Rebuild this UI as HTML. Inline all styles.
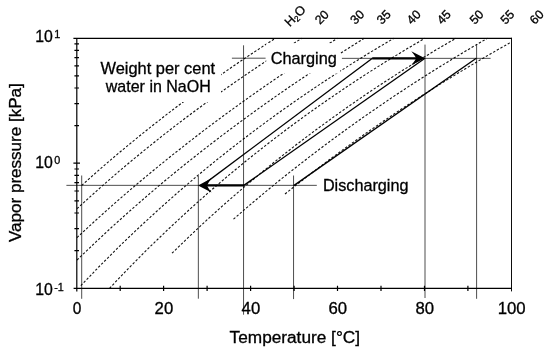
<!DOCTYPE html>
<html><head><meta charset="utf-8"><title>Vapor pressure chart</title>
<style>html,body{margin:0;padding:0;background:#fff}svg{display:block}text{font-family:"Liberation Sans",sans-serif;fill:#000;stroke:#000;stroke-width:0.3px}</style></head><body>
<svg width="550" height="353" viewBox="0 0 550 353">
<rect width="550" height="353" fill="#fff"/>
<g fill="none" stroke="#111" stroke-width="1.1" stroke-dasharray="2.4 1.8">
<polyline points="81.7,185.4 93.8,174.6 105.9,164.0 118.0,153.7 130.2,143.6 142.3,133.7 154.4,124.1 166.5,114.6 178.6,105.4 190.7,96.4 202.8,87.5 214.9,78.9 227.1,70.4 239.2,62.1 251.3,54.0 263.4,46.0 275.5,38.2"/>
<polyline points="77.0,208.7 91.1,195.9 105.1,183.4 119.2,171.2 133.2,159.4 147.3,147.9 161.4,136.6 175.4,125.7 189.5,115.0 203.6,104.6 217.6,94.4 231.7,84.5 245.8,74.8 259.8,65.3 273.9,56.1 287.9,47.0 302.0,38.2"/>
<polyline points="77.0,237.6 93.3,222.5 109.6,207.8 125.8,193.6 142.1,179.8 158.4,166.3 174.7,153.2 191.0,140.4 207.2,127.9 223.5,115.8 239.8,103.9 256.1,92.3 272.4,81.0 288.7,70.0 304.9,59.2 321.2,48.6 337.5,38.2"/>
<polyline points="77.0,260.0 95.0,242.8 112.9,226.1 130.9,210.0 148.9,194.3 166.8,179.2 184.8,164.5 202.8,150.3 220.8,136.4 238.7,123.0 256.7,109.9 274.7,97.1 292.6,84.7 310.6,72.7 328.6,60.9 346.5,49.4 364.5,38.2"/>
<polyline points="80.8,285.6 100.4,265.3 119.9,245.8 139.5,227.1 159.1,209.1 178.7,191.7 198.2,175.1 217.8,159.0 237.4,143.6 257.0,128.7 276.6,114.3 296.1,100.5 315.7,87.1 335.3,74.2 354.9,61.8 374.4,49.8 394.0,38.2"/>
<polyline points="109.5,288.3 129.2,267.6 148.9,247.8 168.7,228.8 188.4,210.5 208.1,192.9 227.8,176.0 247.5,159.8 267.2,144.2 287.0,129.1 306.7,114.6 326.4,100.7 346.1,87.3 365.8,74.3 385.6,61.8 405.3,49.8 425.0,38.2"/>
<polyline points="172.0,253.2 189.8,236.0 207.5,219.4 225.2,203.5 243.0,188.0 260.8,173.1 278.5,158.7 296.2,144.8 314.0,131.3 331.8,118.3 349.5,105.7 367.2,93.5 385.0,81.7 402.8,70.3 420.5,59.3 438.2,48.6 456.0,38.2"/>
<polyline points="233.5,219.2 249.4,205.4 265.2,192.1 281.1,179.1 297.0,166.5 312.9,154.2 328.8,142.2 344.6,130.6 360.5,119.2 376.4,108.2 392.2,97.4 408.1,86.9 424.0,76.7 439.9,66.7 455.8,57.0 471.6,47.5 487.5,38.2"/>
<polyline points="285.0,194.0 299.1,182.8 313.3,171.8 327.4,161.1 341.6,150.7 355.8,140.5 369.9,130.5 384.0,120.8 398.2,111.2 412.4,101.9 426.5,92.8 440.6,83.9 454.8,75.1 468.9,66.6 483.1,58.2 497.2,50.0 511.4,42.0"/>
</g>
<rect x="99" y="58" width="122" height="44" fill="#fff"/>
<rect x="266.2" y="43.2" width="74" height="30.4" fill="#fff"/>
<rect x="320" y="175" width="92" height="22" fill="#fff"/>
<g fill="none" stroke="#000" stroke-width="0.7">
<line x1="81.70" y1="175.5" x2="81.70" y2="298.8"/>
<line x1="198.35" y1="176.0" x2="198.35" y2="298.7"/>
<line x1="243.55" y1="45.3" x2="243.55" y2="314.7"/>
<line x1="293.55" y1="175.5" x2="293.55" y2="299.1"/>
<line x1="425.00" y1="44.6" x2="425.00" y2="298.0"/>
<line x1="476.60" y1="44.2" x2="476.60" y2="298.8"/>
<line x1="66.4" y1="185.35" x2="316.8" y2="185.35"/>
<line x1="341.9" y1="58.35" x2="490.6" y2="58.35"/>
<line x1="231.9" y1="58.20" x2="265.6" y2="58.20"/>
</g>
<g fill="none" stroke="#000" stroke-width="1.2">
<path d="M73.4,38.37 H511.9 M73.6,288.37 H511.9 M76.8,37.8 V291.4"/><path d="M511.5,37.8 V291.4" stroke-width="0.95"/>
<path d="M74.4,125.6 H79 M74.4,103.6 H79 M74.4,88.0 H79 M74.4,75.8 H79 M74.4,65.9 H79 M74.4,57.6 H79 M74.4,50.3 H79 M74.4,43.9 H79 M74.4,250.7 H79 M74.4,228.6 H79 M74.4,213.0 H79 M74.4,200.9 H79 M74.4,191.0 H79 M74.4,182.6 H79 M74.4,175.4 H79 M74.4,169.0 H79 M73.4,163.2 H80 M120.2,285.8 V291 M163.6,285.8 V291 M207.1,285.8 V291 M250.6,285.8 V291 M294.1,285.8 V291 M337.5,285.8 V291 M381.0,285.8 V291 M424.5,285.8 V291 M467.9,285.8 V291"/>
</g>
<g fill="none" stroke="#000" stroke-width="1.35" stroke-linejoin="round">
<line x1="202.3" y1="185.4" x2="372.4" y2="58.2"/>
<line x1="243.8" y1="185.4" x2="425.0" y2="58.2"/>
<line x1="293.7" y1="185.6" x2="476.3" y2="58.2"/>
</g>
<g stroke="#000" stroke-width="2.3" fill="none"><line x1="372.2" y1="58.3" x2="418" y2="58.3"/><line x1="244" y1="185.4" x2="205" y2="185.4"/></g>
<path d="M425,58.3 L411.3,51.3 Q414.8,55.4 416.2,58.3 Q414.8,61.2 411.3,65.3 Z" fill="#000"/>
<path d="M198.1,185.4 L211.5,178.2 Q208.4,182.5 207,185.4 Q208.4,188.3 211.5,192.6 Z" fill="#000"/>
<g font-size="16px">
<text x="77.0" y="314.4" text-anchor="middle" textLength="8.6" lengthAdjust="spacingAndGlyphs">0</text>
<text x="163.9" y="314.4" text-anchor="middle" textLength="18.6" lengthAdjust="spacingAndGlyphs">20</text>
<text x="250.9" y="314.4" text-anchor="middle" textLength="18.6" lengthAdjust="spacingAndGlyphs">40</text>
<text x="337.8" y="314.4" text-anchor="middle" textLength="18.6" lengthAdjust="spacingAndGlyphs">60</text>
<text x="424.8" y="314.4" text-anchor="middle" textLength="18.6" lengthAdjust="spacingAndGlyphs">80</text>
<text x="511.7" y="314.4" text-anchor="middle" textLength="28" lengthAdjust="spacingAndGlyphs">100</text>
<text x="294.8" y="343.1" text-anchor="middle" textLength="130.4" lengthAdjust="spacingAndGlyphs">Temperature [°C]</text>
<text transform="translate(21.2,162.6) rotate(-90)" text-anchor="middle" textLength="158.8" lengthAdjust="spacingAndGlyphs">Vapor pressure [kPa]</text>
<text x="35.2" y="41.5" textLength="17.6" lengthAdjust="spacingAndGlyphs">10</text><text x="54.2" y="37.9" font-size="10.8px">1</text>
<text x="35.2" y="167.9" textLength="17.6" lengthAdjust="spacingAndGlyphs">10</text><text x="54.2" y="164.3" font-size="10.8px">0</text>
<text x="35.2" y="294.7" textLength="17.6" lengthAdjust="spacingAndGlyphs">10</text><text x="54.2" y="291.1" font-size="10.8px">-1</text>
</g>
<g font-size="16.4px">
<text x="157.8" y="73.6" text-anchor="middle" textLength="114.6" lengthAdjust="spacingAndGlyphs">Weight per cent</text>
<text x="158.3" y="92.2" text-anchor="middle" textLength="105" lengthAdjust="spacingAndGlyphs">water in NaOH</text>
<text x="270.7" y="64.2" textLength="66.1" lengthAdjust="spacingAndGlyphs">Charging</text>
<text x="322.9" y="190.5" textLength="85.6" lengthAdjust="spacingAndGlyphs">Discharging</text>
</g>
<g font-size="12.4px">
<text transform="translate(295.0,15.9) rotate(-45)" text-anchor="middle" y="4.3" font-size="12.8px">H<tspan font-size="8.2px" dy="2">2</tspan><tspan dy="-2">O</tspan></text>
<text transform="translate(321.7,17.2) rotate(-45)" text-anchor="middle" y="4.3">20</text>
<text transform="translate(357.1,17.0) rotate(-45)" text-anchor="middle" y="4.3">30</text>
<text transform="translate(383.6,17.0) rotate(-45)" text-anchor="middle" y="4.3">35</text>
<text transform="translate(413.6,17.0) rotate(-45)" text-anchor="middle" y="4.3">40</text>
<text transform="translate(443.7,17.0) rotate(-45)" text-anchor="middle" y="4.3">45</text>
<text transform="translate(476.5,17.0) rotate(-45)" text-anchor="middle" y="4.3">50</text>
<text transform="translate(507.2,17.0) rotate(-45)" text-anchor="middle" y="4.3">55</text>
<text transform="translate(536.6,17.0) rotate(-45)" text-anchor="middle" y="4.3">60</text>
</g>
</svg></body></html>
